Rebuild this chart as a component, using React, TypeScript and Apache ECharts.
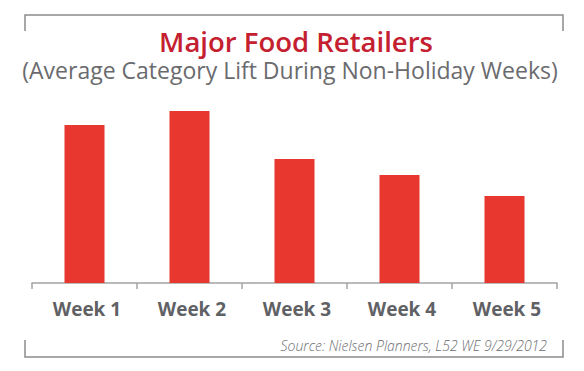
import React, { useEffect, useRef } from "react";
import * as echarts from "echarts";

const categories: string[] = ["Week 1", "Week 2", "Week 3", "Week 4", "Week 5"];
const liftValues: number[] = [158, 172, 124, 108, 87];
const titleText = "Major Food Retailers";
const subtitleText = "(Average Category Lift During Non-Holiday Weeks)";
const sourceText = "Source: Nielsen Planners, L52 WE 9/29/2012";

export default function App() {
  const ref = useRef<HTMLDivElement>(null);
  useEffect(() => {
    if (!ref.current) return;
    const chart = echarts.init(ref.current, null, { renderer: "svg" });
    chart.setOption({
      animation: false,
      backgroundColor: "#ffffff",
      title: [
        {
          text: titleText,
          left: 296,
          textAlign: "center",
          top: 27,
          padding: 0,
          textStyle: {
            fontFamily: "Open Sans",
            fontSize: 27.5,
            fontWeight: 600,
            color: "#c4202f",
            lineHeight: 28,
          },
        },
        {
          text: subtitleText,
          left: 290,
          textAlign: "center",
          top: 58,
          padding: 0,
          textStyle: {
            fontFamily: "Open Sans",
            fontSize: 23,
            fontWeight: 400,
            color: "#6a6b6e",
            lineHeight: 24,
          },
        },
      ],
      grid: { left: 32, right: 27, top: 83, bottom: 88, containLabel: false },
      xAxis: {
        type: "category",
        data: categories,
        axisLine: { show: true, lineStyle: { color: "#a3a3a3", width: 1.5 } },
        axisTick: { show: true, length: 6, lineStyle: { color: "#a3a3a3", width: 1.5 } },
        axisLabel: {
          margin: 16,
          fontFamily: "Open Sans",
          fontSize: 19,
          fontWeight: "bold",
          color: "#606165",
          padding: [0, 0, 0, 5],
        },
      },
      yAxis: { type: "value", min: 0, max: 200, show: false, splitLine: { show: false } },
      series: [
        {
          type: "bar",
          data: liftValues,
          barWidth: 40,
          itemStyle: { color: "#e8372e" },
        },
      ],
      graphic: [
        {
          type: "polyline",
          shape: { points: [[25, 31], [25, 15], [563, 15], [563, 31]] },
          style: { stroke: "#8c8c8c", lineWidth: 1.5, fill: "none" },
        },
        {
          type: "polyline",
          shape: { points: [[25, 340], [25, 357], [563, 357], [563, 340]] },
          style: { stroke: "#8c8c8c", lineWidth: 1.5, fill: "none" },
        },
        {
          type: "text",
          x: 547,
          y: 345,
          style: {
            text: sourceText,
            textAlign: "right",
            textVerticalAlign: "middle",
            fontFamily: "Open Sans",
            fontStyle: "italic",
            fontWeight: 300,
            fontSize: 14,
            fill: "#6d6e71",
          },
        },
      ],
    });
    return () => chart.dispose();
  }, []);
  return (
    <div
      ref={ref}
      style={{ position: "fixed", left: 0, top: 0, width: 584, height: 371 }}
    />
  );
}
